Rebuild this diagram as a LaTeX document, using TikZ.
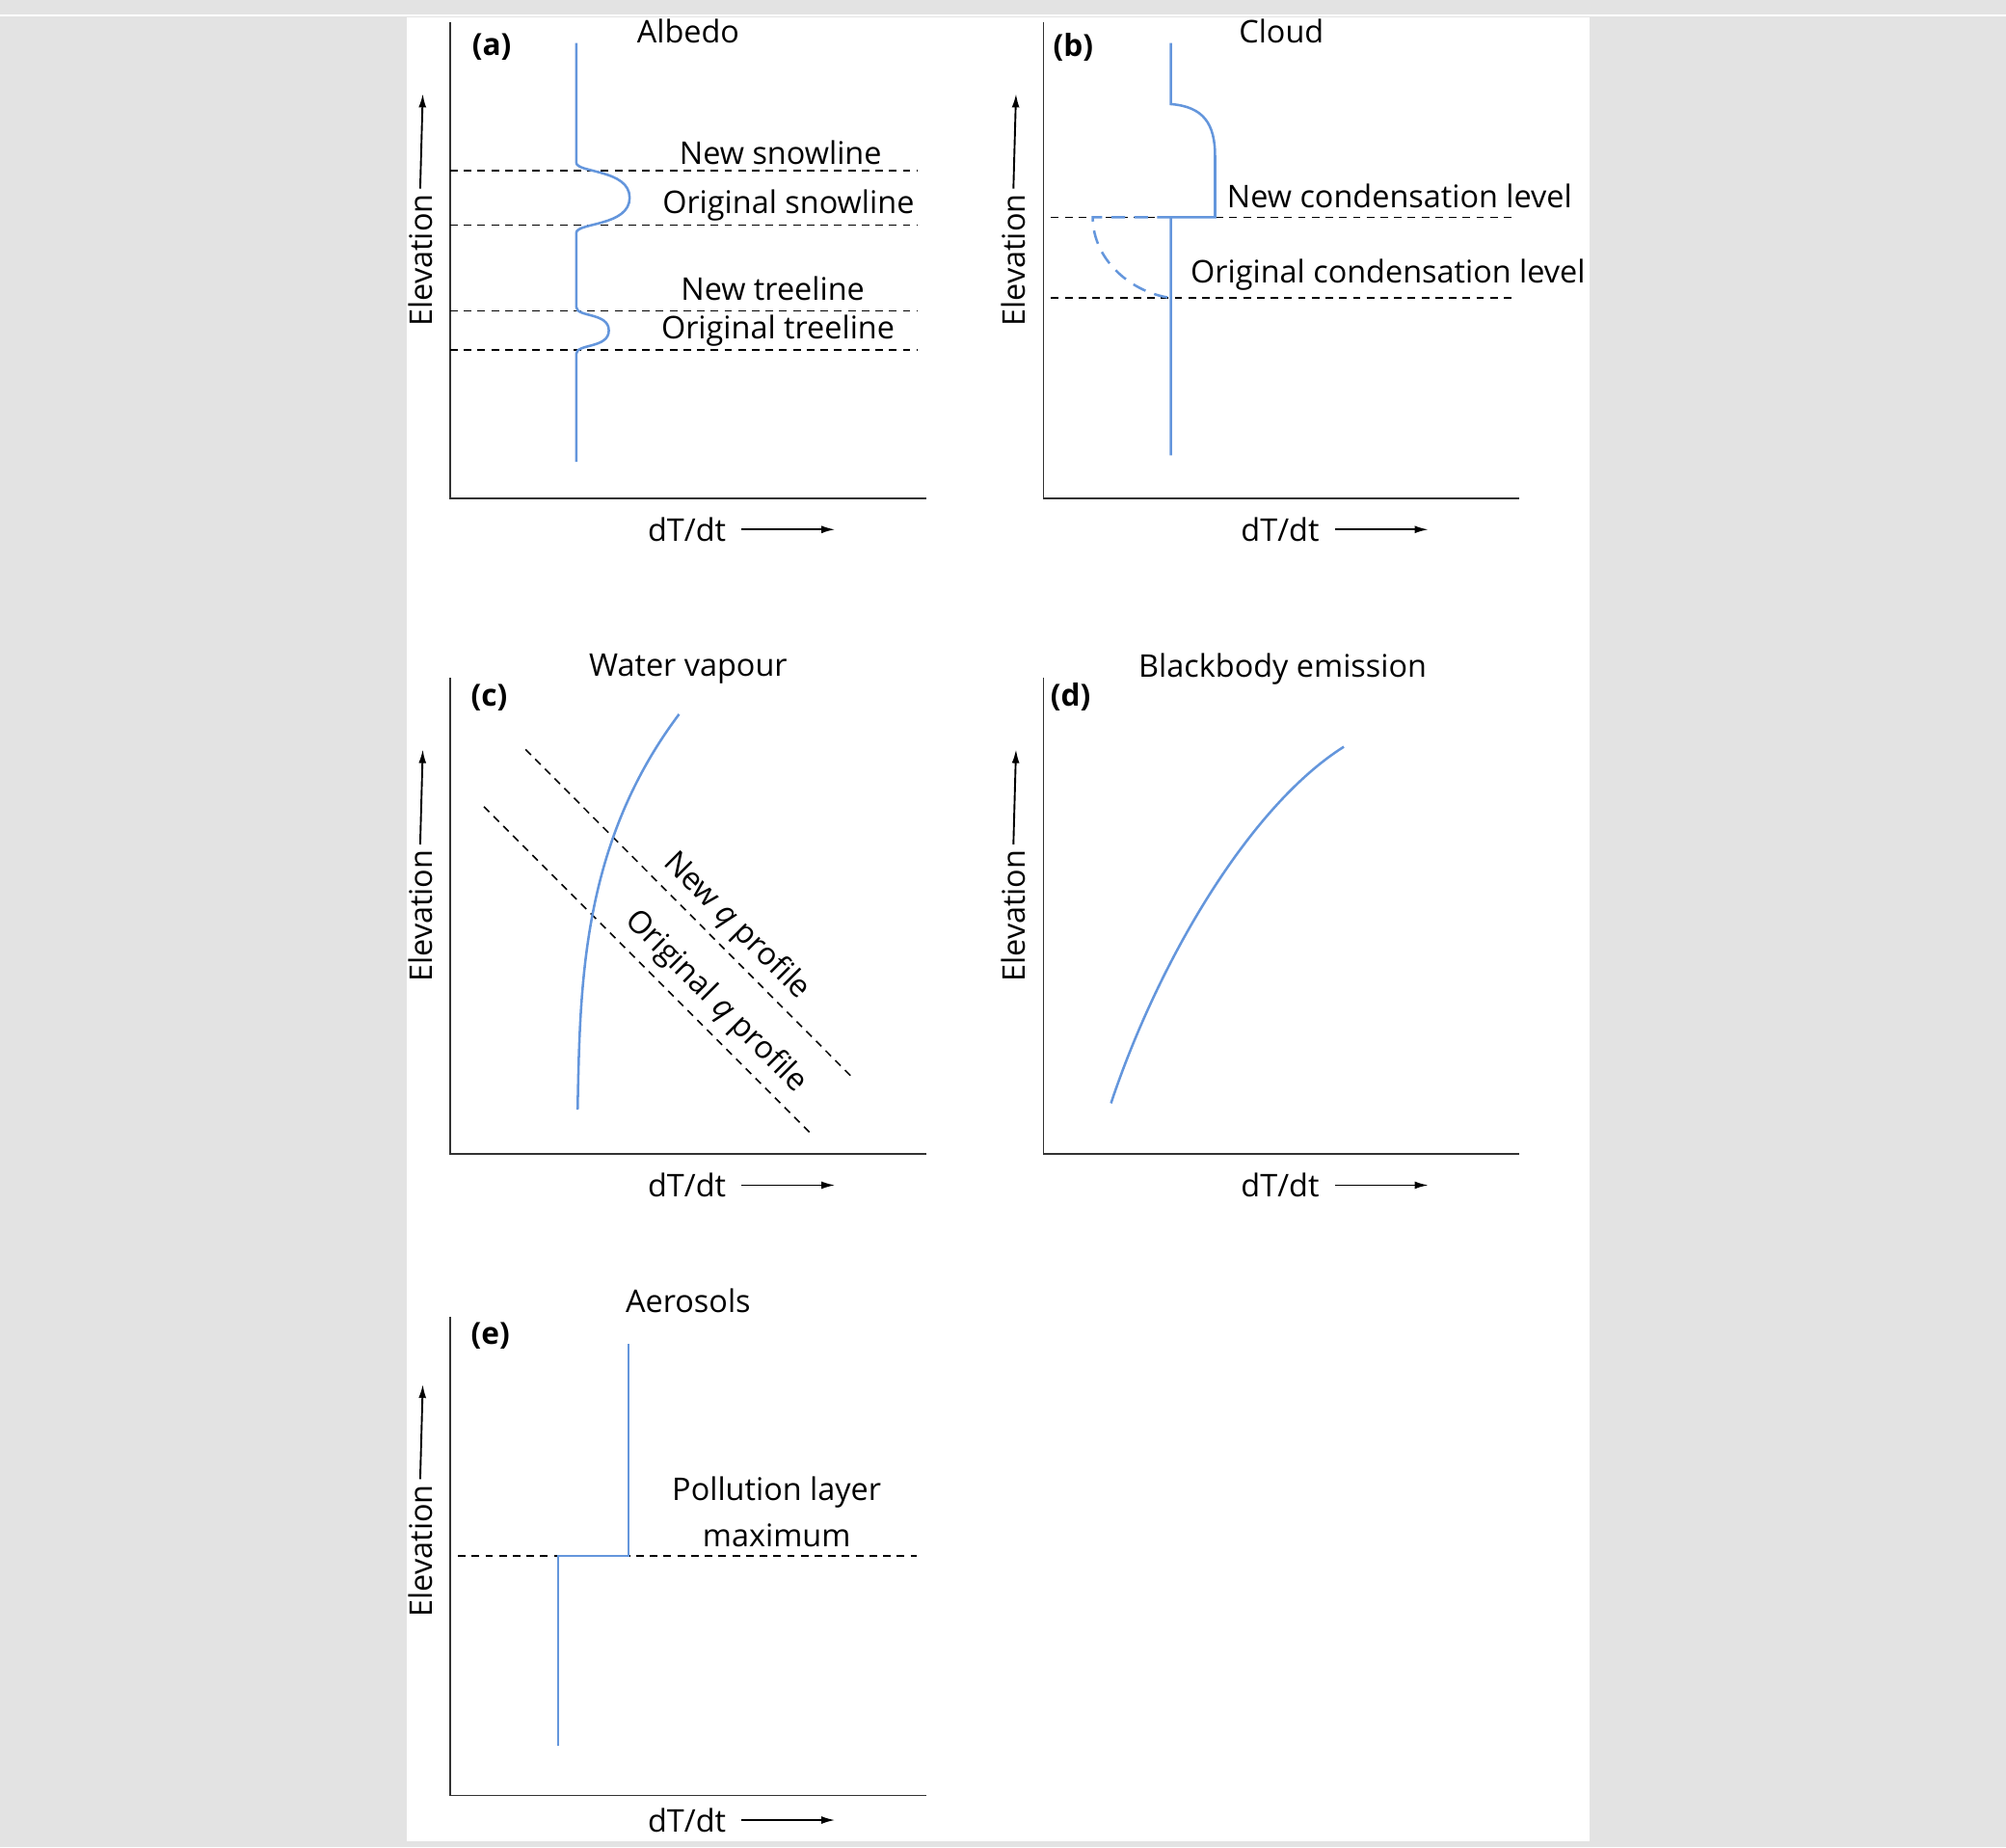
\documentclass[tikz,border=0pt]{standalone}
\usepackage{fontspec}
\setmainfont{Open Sans}
\usetikzlibrary{arrows.meta}
\definecolor{bg}{RGB}{227,227,227}
\definecolor{crv}{RGB}{100,150,220}
\begin{document}
\begin{tikzpicture}[x=0.03cm,y=-0.03cm,
  lbl/.style={font=\fontsize{20.5}{24}\selectfont,inner sep=0pt},
  plab/.style={font=\fontsize{20}{24}\selectfont\bfseries,inner sep=0pt},
  axis/.style={draw=black!80,line width=1pt},
  dl/.style={line width=1pt,dash pattern=on 5pt off 4pt},
  curve/.style={crv,line width=1.6pt},
  arr/.style={line width=1.2pt,-{Latex[length=9pt,width=5pt]}}]
\useasboundingbox (0,0) rectangle (1542,1420);
\fill[bg] (0,0) rectangle (1542,1420);
\fill[white] (313,13) rectangle (1222,1415);
\draw[white,line width=1pt] (0,12) -- (1542,12);
\foreach \ox/\oy in {0/0, 456/0, 0/504, 456/504}{
  \draw[axis] (346+\ox,17+\oy) -- (346+\ox,383+\oy) -- (712+\ox,383+\oy);
}
\draw[axis] (346,1012) -- (346,1380) -- (712,1380);
\foreach \ox/\oy/\n in {0/0/a,456/0/b,0/504/c,456/504/d,0/992/e}{
  \node[lbl,rotate=90] (el\n) at (323+\ox,200+\oy) {Elevation};
  \coordinate (elt\n) at (325+\ox,72+\oy);
  \draw[arr] (el\n.east) ++(0,-4) -- (elt\n);
  \node[lbl] (dt\n) at (528+\ox,407+\oy) {dT/dt};
  \coordinate (dte\n) at (642+\ox,407+\oy);
  \draw[arr] ([xshift=10pt]dt\n.east) -- (dte\n);
}
% ---------- (a)
\node[plab] (pa) at (378,36) {(a)};
\node[lbl] (ta) at (529,24) {Albedo};
\foreach \y in {131,173,239,269}{\draw[dl] (346,\y) -- (705,\y);}
\draw[curve] (443,33) -- (443,125) .. controls (443,133) and (484,130) .. (484,152)
  .. controls (484,174) and (443,171) .. (443,179) -- (443,236)
  .. controls (443,244) and (468,240) .. (468,254) .. controls (468,268) and (443,264) .. (443,272) -- (443,355);
\node[lbl] (a1) at (600,117) {New snowline};
\node[lbl] (a2) at (606,158) {Original snowline};
\node[lbl] (a3) at (594,222) {New treeline};
\node[lbl] (a4) at (598,254) {Original treeline};
% ---------- (b)
\node[plab] (pb) at (825,36) {(b)};
\node[lbl] (tb) at (985,24) {Cloud};
\draw[dl] (808,167) -- (1162,167);
\draw[dl] (808,229) -- (1162,229);
\draw[curve] (900,33) -- (900,80) .. controls (925,82) and (934,95) .. (934,120) -- (934,167) -- (900,167) -- (900,350);
\draw[curve,dash pattern=on 9pt off 6pt] (900,167) -- (840,167) .. controls (840,200) and (870,225) .. (900,229);
\node[lbl,anchor=west] (b1) at (943,151) {New condensation level};
\node[lbl,anchor=west] (b2) at (915,211) {Original condensation level};
% ---------- (c)
\node[plab] (pc) at (376,536) {(c)};
\node[lbl] (tc) at (529,514) {Water vapour};
\draw[dl] (404,576) -- (655,828);
\draw[dl] (372,620) -- (624,872);
\draw[curve] (444,853) .. controls (446,760) and (446,650) .. (522,549);
\node[lbl,rotate=-45] (c1) at (566,712) {New \textit{q} profile};
\node[lbl,rotate=-45] (c2) at (550,770) {Original \textit{q} profile};
% ---------- (d)
\node[plab] (pd) at (823,536) {(d)};
\node[lbl] (td) at (986,514) {Blackbody emission};
\draw[curve] (854,848) .. controls (890,740) and (960,620) .. (1033,574);
% ---------- (e)
\node[plab] (pe) at (377,1027) {(e)};
\node[lbl] (te) at (529,1000) {Aerosols};
\draw[dl] (352,1196) -- (705,1196);
\draw[curve] (429,1342) -- (429,1196) -- (483,1196) -- (483,1033);
\node[lbl] (e1) at (597,1147) {Pollution layer};
\node[lbl] (e2) at (597,1180) {maximum};
\end{tikzpicture}
\end{document}
